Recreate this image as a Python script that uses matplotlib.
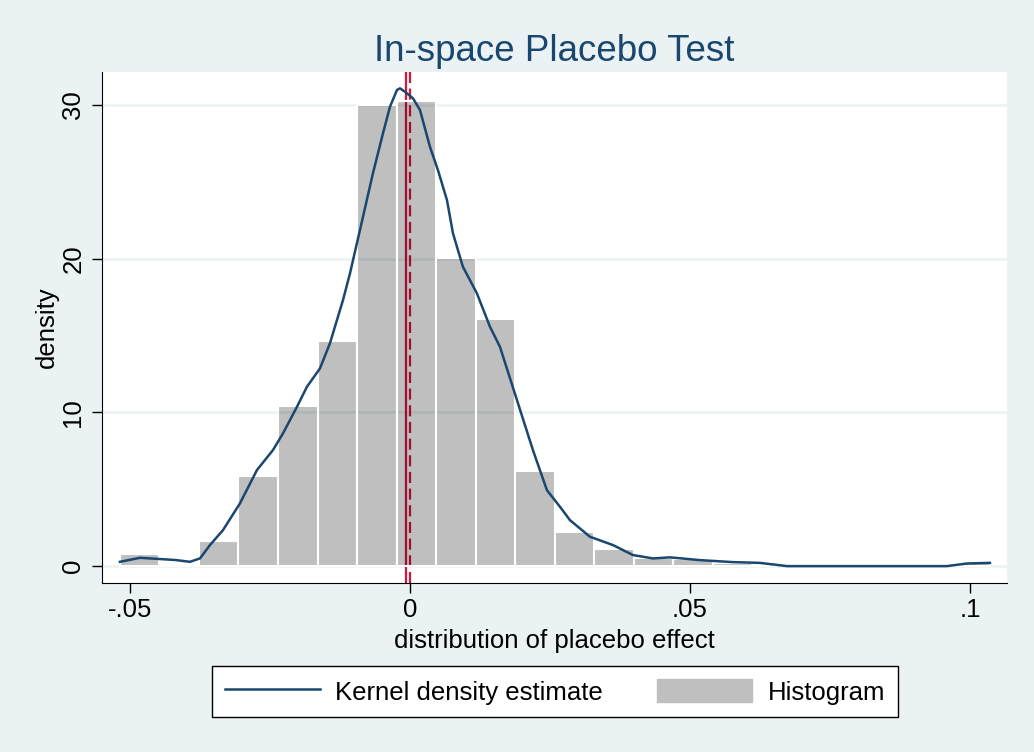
import numpy as np
import matplotlib
matplotlib.use("Agg")
import matplotlib.pyplot as plt
from matplotlib.patches import Patch
from matplotlib.lines import Line2D

plt.rcParams['font.family'] = ['Liberation Sans', 'DejaVu Sans']

# histogram: 22 bins, left edge and width
bin_start = -0.0518
bin_width = 0.00706
hist_density = [0.76, 0.0, 1.63, 5.86, 10.4, 14.64, 30.0, 30.25, 20.04, 16.07, 6.18,
                2.2, 1.1, 0.5, 0.44, 0.22, 0.0, 0.0, 0.0, 0.0, 0.0, 0.2]

# kernel density estimate
kde_x = [-0.05179, -0.04821, -0.04464, -0.04196, -0.03929, -0.0375, -0.03571, -0.03339,
         -0.03036, -0.02732, -0.02446, -0.02268, -0.02018, -0.01839, -0.01607, -0.01429,
         -0.01304, -0.01196, -0.01071, -0.00893, -0.00661, -0.00482, -0.00357, -0.00232,
         -0.00179, -0.00089, 0.00054, 0.00179, 0.00357, 0.005, 0.00661, 0.00768, 0.00946,
         0.01196, 0.01429, 0.01607, 0.01911, 0.02196, 0.02446, 0.02679, 0.02857, 0.03036,
         0.03214, 0.03625, 0.03982, 0.04339, 0.04643, 0.05179, 0.05768, 0.0625, 0.06732,
         0.09589, 0.09946, 0.10357]
kde_y = [0.28, 0.54, 0.46, 0.40, 0.28, 0.5, 1.37, 2.34,
         4.08, 6.25, 7.55, 8.63, 10.36, 11.67, 12.86, 14.49,
         16.0, 17.3, 19.04, 21.86, 25.55, 28.15, 29.88, 30.97,
         31.08, 30.86, 30.43, 29.67, 27.28, 25.76, 23.81, 21.65, 19.47,
         17.74, 15.57, 14.27, 10.8, 7.55, 4.94, 3.86, 2.99, 2.45,
         1.91, 1.37, 0.72, 0.5, 0.57, 0.39, 0.26, 0.21, 0.0,
         0.0, 0.17, 0.21]

true_effect = -0.00077   # solid line
zero_line = 0.0          # dashed line

bg = '#eaf2f3'
navy = '#1a476f'
red = '#d7143c'

fig = plt.figure(figsize=(10.34, 7.52), dpi=100, facecolor=bg)
ax = fig.add_axes([0.0986, 0.2247, 0.8752, 0.6795])
ax.set_facecolor('white')

edges = bin_start + bin_width * np.arange(len(hist_density))
ax.bar(edges, hist_density, width=bin_width, align='edge',
       color=(0, 0, 0, 0.25), edgecolor='white', linewidth=1.5, zorder=2)

ax.axvline(true_effect, color=red, lw=1.6, zorder=1)
ax.axvline(zero_line, color=red, lw=1.6, ls=(0, (5, 2.5)), zorder=1)

ax.plot(kde_x, kde_y, color=navy, lw=1.8, zorder=3, solid_joinstyle='round')

ax.set_xlim(-0.055, 0.1066)
ax.set_ylim(-1.1, 32.14)
ax.set_xticks([-0.05, 0, 0.05, 0.1])
ax.set_xticklabels(['-.05', '0', '.05', '.1'])
ax.set_yticks([0, 10, 20, 30])
ax.set_yticklabels(['0', '10', '20', '30'], rotation=90, va='center')
ax.tick_params(labelsize=18.5, length=7, width=1)
ax.tick_params(axis='x', pad=4)
ax.tick_params(axis='y', pad=5)
ax.yaxis.grid(True, color=bg, lw=1.8, zorder=0)
ax.set_axisbelow(True)
for s in ['top', 'right']:
    ax.spines[s].set_visible(False)

ax.set_xlabel('distribution of placebo effect', fontsize=18.5, labelpad=5)
ax.set_ylabel('density', fontsize=18.5, labelpad=2)
ax.set_title('In-space Placebo Test', fontsize=26.5, color=navy, pad=8)

handles = [Line2D([], [], color=navy, lw=1.8),
           Patch(facecolor='#bfbfbf', edgecolor='#bfbfbf')]
leg = fig.legend(handles, ['Kernel density estimate', 'Histogram'], ncol=2,
                 loc='center', bbox_to_anchor=(0.5366, 0.0798), fontsize=18.5,
                 frameon=True, fancybox=False, edgecolor='black', framealpha=1,
                 handlelength=3.7, handleheight=1.0, handletextpad=0.6,
                 columnspacing=2.1, borderpad=0.5, borderaxespad=0)
leg.get_frame().set_linewidth(1)

fig.savefig('out.png', dpi=100, facecolor=bg)
